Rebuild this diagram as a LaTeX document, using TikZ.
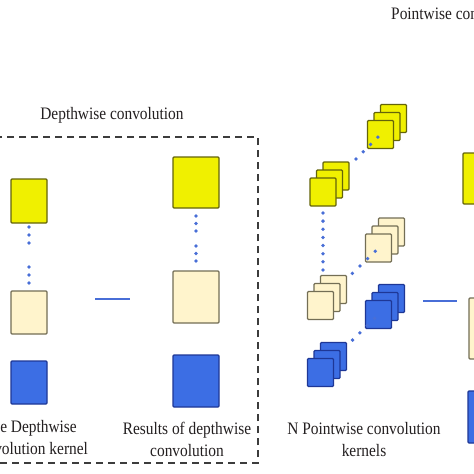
\documentclass[tikz,border=0pt]{standalone}
\usepackage{fontspec}
\setmainfont{Liberation Serif}[FakeStretch=0.88]
\definecolor{yelF}{RGB}{240,240,0}
\definecolor{yelD}{RGB}{100,100,10}
\definecolor{beiF}{RGB}{255,244,204}
\definecolor{beiD}{RGB}{115,110,85}
\definecolor{bluF}{RGB}{60,110,228}
\definecolor{bluD}{RGB}{30,55,150}
\definecolor{dotC}{RGB}{72,110,215}
\definecolor{txtC}{RGB}{35,31,32}
\definecolor{boxC}{RGB}{60,60,60}
\tikzset{
  sq/.style={draw, rounded corners=1pt, line width=1.2pt, inner sep=0pt, outer sep=0pt},
  yel/.style={sq, fill=yelF, draw=yelD},
  bei/.style={sq, fill=beiF, draw=beiD},
  blu/.style={sq, fill=bluF, draw=bluD},
  kern/.style={minimum width=26pt, minimum height=28pt},
  dotline/.style={draw=dotC, line width=3.8pt, line cap=round},
  conn/.style={draw=dotC, line width=2pt},
  lbl/.style={font=\fontsize{17.5}{22}\selectfont, text=txtC, align=center, inner sep=0pt},
  dashbox/.style={draw=boxC, line width=1.4pt, dash pattern=on 7pt off 5pt},
}
\begin{document}
\begin{tikzpicture}[x=1pt, y=-1pt]
\useasboundingbox (0,0) rectangle (474,474);
\clip (0,0) rectangle (474,474);
\fill[white] (0,0) rectangle (474,474);

% Depthwise part
\draw[dashbox] (-10,137) rectangle (258,463);
\node[lbl] (tD) at (112,115) {Depthwise convolution};

\node[yel, minimum width=36pt, minimum height=44pt] (kY) at (29,201) {};
\node[bei, minimum width=36pt, minimum height=43pt] (kB) at (29,312.5) {};
\node[blu, minimum width=36pt, minimum height=43pt] (kU) at (29,382.5) {};

\node[yel, minimum width=46pt, minimum height=51pt] (rY) at (196,182.5) {};
\node[bei, minimum width=46pt, minimum height=52pt] (rB) at (196,297) {};
\node[blu, minimum width=46pt, minimum height=52pt] (rU) at (196,381) {};

\draw[dotline, dash pattern=on 0pt off 8pt on 0pt off 8pt on 0pt off 24pt on 0pt off 8pt on 0pt off 8pt on 0pt off 100pt, shorten <=4pt] (kY.south) -- (kB.north);
\draw[dotline, dash pattern=on 0pt off 7.5pt on 0pt off 7.5pt on 0pt off 15pt on 0pt off 7.5pt on 0pt off 7.5pt on 0pt off 100pt, shorten <=8pt] (rY.south) -- (rB.north);

\draw[conn, shorten <=48pt, shorten >=43pt] ([yshift=-2pt]kB.east |- rB.west) -- ([yshift=-2pt]rB.west);

\node[lbl] (lK) at (30,438) {The Depthwise\\convolution kernel};
\node[lbl] (lR) at (187,439.5) {Results of depthwise\\convolution};

% Pointwise part
\node[lbl, anchor=west] (tP) at (391,14) {Pointwise convolution};

\foreach \n/\x/\y/\s in {ya/323/192/yel, yb/380.5/134.5/yel, ba/320.5/305.5/bei, bb/378.5/248/bei, ua/320.5/372.5/blu, ub/378.5/314.5/blu}{
  \node[\s,kern] (\n3) at (\x+13,\y-16) {};
  \node[\s,kern] (\n2) at (\x+6.5,\y-8) {};
  \node[\s,kern] (\n1) at (\x,\y) {};
}

\draw[dotline, dash pattern=on 0pt off 8.14pt, shorten <=7pt, shorten >=4.5pt] (ya1.south) -- (ya1.south |- ba3.north);
\draw[dotline, dash pattern=on 0pt off 10.3pt, shorten <=9.9pt] ([yshift=-4pt]ya3.north east) -- (yb1.center);
\draw[dotline, dash pattern=on 0pt off 10.6pt, shorten <=8.1pt] ([yshift=-3.5pt]ba3.north east) -- (bb1.center);
\draw[dotline, dash pattern=on 0pt off 10.3pt, shorten <=8.5pt] ([yshift=-3.5pt]ua3.north east) -- (ub1.center);

\node[yel, minimum width=46pt, minimum height=51pt] (pY) at (486,178.5) {};
\node[bei, minimum width=46pt, minimum height=61pt] (pB) at (492,328.5) {};
\node[blu, minimum width=46pt, minimum height=52pt] (pU) at (491,417) {};

\draw[conn, shorten <=18.5pt, shorten >=12pt] ([yshift=-2.5pt]ub3.east) -- ([yshift=-2.5pt]ub3.east -| pB.west);

\node[lbl] (lN) at (364,440) {N Pointwise convolution\\kernels};
\end{tikzpicture}
\end{document}
